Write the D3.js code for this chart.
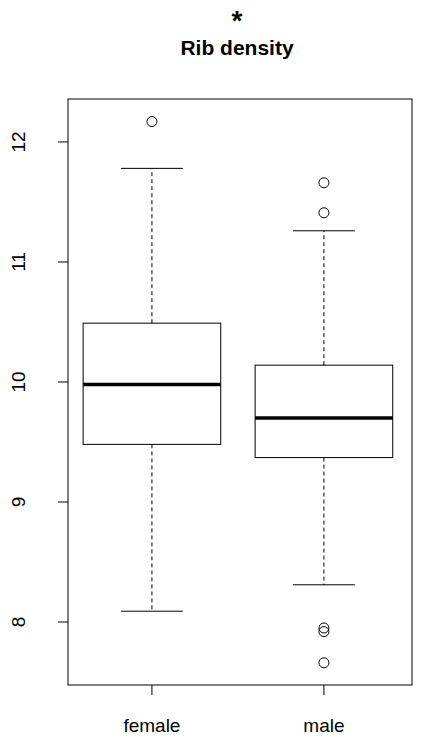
<!DOCTYPE html>
<html><head><meta charset="utf-8">
<script src="https://cdn.jsdelivr.net/npm/d3@7"></script>
<style>body{margin:0;background:#fff}</style>
</head><body>
<svg id="chart" width="429" height="737"></svg>
<script>
// box statistics
const groups = ["female", "male"];
const whiskerLow = [8.09, 8.31];
const q1 = [9.48, 9.37];
const median = [9.98, 9.70];
const q3 = [10.49, 10.14];
const whiskerHigh = [11.78, 11.26];
const outliers = [[12.17], [11.66, 11.41, 7.95, 7.92, 7.66]];
const yTicks = [8, 9, 10, 11, 12];

const margin = {top: 99, right: 17, bottom: 52, left: 68};
const width = 429 - margin.left - margin.right;
const height = 737 - margin.top - margin.bottom;
const font = "Liberation Sans, Arial, sans-serif";

const svg = d3.select("#chart");
const g = svg.append("g").attr("transform", "translate(" + margin.left + "," + margin.top + ")");

const y = d3.scaleLinear().domain([7.475, 12.358]).range([height, 0]);
const x0 = d3.scaleLinear().domain([0.512, 2.512]).range([0, width]);
const bw = x0(1.4) - x0(1);
const cap = x0(1.18) - x0(1);

groups.forEach(function(name, i) {
	let cx = x0(i + 1);
	g.append("line").attr("x1", cx).attr("x2", cx).attr("y1", y(q3[i])).attr("y2", y(whiskerHigh[i]))
		.attr("stroke", "#000").attr("stroke-dasharray", "4,3");
	g.append("line").attr("x1", cx).attr("x2", cx).attr("y1", y(q1[i])).attr("y2", y(whiskerLow[i]))
		.attr("stroke", "#000").attr("stroke-dasharray", "4,3");
	[whiskerHigh[i], whiskerLow[i]].forEach(function(v) {
		g.append("line").attr("x1", cx - cap).attr("x2", cx + cap).attr("y1", y(v)).attr("y2", y(v))
			.attr("stroke", "#000");
	});
	g.append("rect").attr("x", cx - bw).attr("width", bw * 2)
		.attr("y", y(q3[i])).attr("height", y(q1[i]) - y(q3[i]))
		.attr("fill", "none").attr("stroke", "#000");
	g.append("line").attr("x1", cx - bw).attr("x2", cx + bw).attr("y1", y(median[i])).attr("y2", y(median[i]))
		.attr("stroke", "#000").attr("stroke-width", 3.5);
	g.selectAll(null).data(outliers[i]).enter().append("circle")
		.attr("cx", cx).attr("cy", d => y(d)).attr("r", 5)
		.attr("fill", "none").attr("stroke", "#000");
});

g.append("rect").attr("width", width).attr("height", height).attr("fill", "none").attr("stroke", "#000");

// y axis
yTicks.forEach(function(t) {
	g.append("line").attr("x1", 0).attr("x2", -10).attr("y1", y(t)).attr("y2", y(t)).attr("stroke", "#000");
	g.append("text").attr("transform", "translate(-50," + y(t) + ") rotate(-90)")
		.attr("text-anchor", "middle").attr("dy", "0.35em")
		.style("font-family", font).style("font-size", "19px").text(t);
});

// x axis
groups.forEach(function(name, i) {
	let cx = x0(i + 1);
	g.append("line").attr("x1", cx).attr("x2", cx).attr("y1", height).attr("y2", height + 10).attr("stroke", "#000");
	g.append("text").attr("x", cx).attr("y", height + 47).attr("text-anchor", "middle")
		.style("font-family", font).style("font-size", "19px").text(name);
});

svg.append("text").attr("x", 237).attr("y", 30).attr("text-anchor", "middle")
	.style("font-family", font).style("font-size", "28px").style("font-weight", "bold").text("*");
svg.append("text").attr("x", 237).attr("y", 55).attr("text-anchor", "middle")
	.style("font-family", font).style("font-size", "21px").style("font-weight", "bold").text("Rib density");
</script>
</body></html>
